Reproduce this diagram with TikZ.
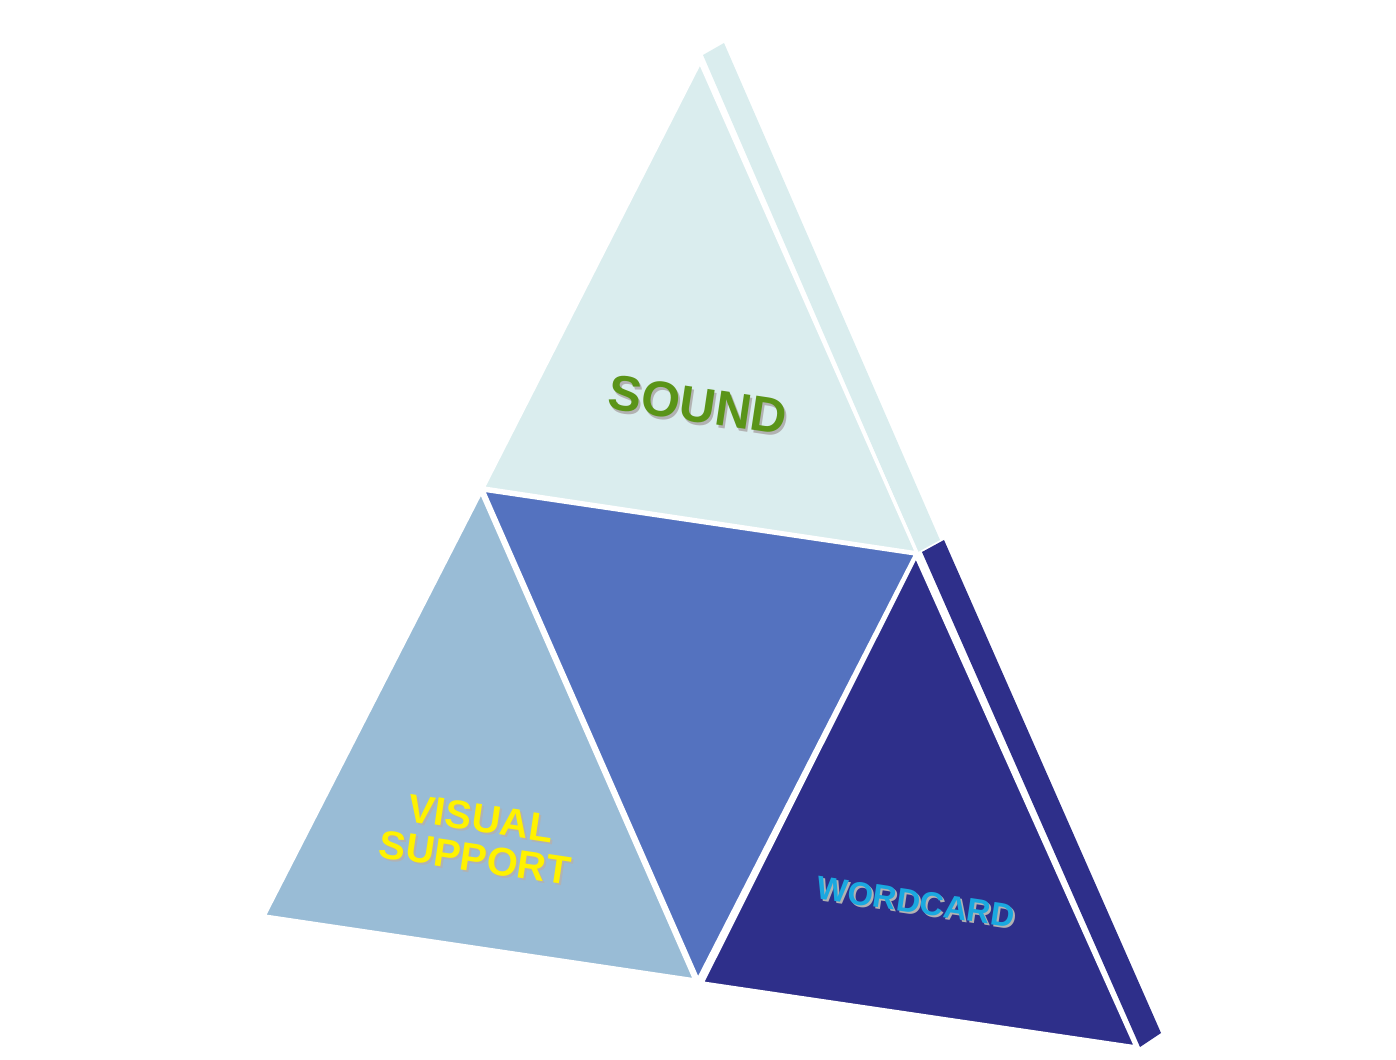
\documentclass[tikz,border=0pt]{standalone}
\usepackage{fontspec}
\setmainfont{Liberation Sans}
\begin{document}
\begin{tikzpicture}[x=1bp,y=1bp,
  face/.style={draw=white,line width=3.5bp,line join=round},
  lbl/.style={font=\bfseries,rotate=-8.5,align=center,inner sep=0pt},
  shad/.style={lbl,text=black!30}]
\useasboundingbox (0,0) rectangle (1396,1059);
\definecolor{topc}{HTML}{DAEDEE}
\definecolor{midc}{HTML}{5472BF}
\definecolor{leftc}{HTML}{99BCD6}
\definecolor{rightc}{HTML}{2E2F8A}
\definecolor{soundc}{HTML}{5A9418}
\definecolor{wordc}{HTML}{1AA8E0}
\fill[topc] (703,1004) -- (724,1016) -- (940,519) -- (918,507) -- cycle;
\fill[rightc] (922,507) -- (944,519) -- (1161,26) -- (1140,12) -- cycle;
\filldraw[face,fill=topc] (700,997) -- (483,571) -- (917,506) -- cycle;
\filldraw[face,fill=midc] (483,569) -- (916,505) -- (698,79) -- cycle;
\filldraw[face,fill=leftc] (481,567) -- (264,143) -- (695,79) -- cycle;
\filldraw[face,fill=rightc] (916,503) -- (702,76) -- (1136,12) -- cycle;
\node[shad,font=\fontsize{50}{54}\selectfont\bfseries] at (700,651) {SOUND};
\node[lbl,text=soundc,font=\fontsize{50}{54}\selectfont\bfseries] (sound) at (698,654) {SOUND};
\node[shad,font=\fontsize{40}{40}\selectfont\bfseries] at (480,219) {VISUAL\\SUPPORT};
\node[lbl,text=yellow,font=\fontsize{40}{40}\selectfont\bfseries] (vis) at (478,221) {VISUAL\\SUPPORT};
\node[shad,font=\fontsize{33}{36}\selectfont\bfseries] at (918,155) {WORDCARD};
\node[lbl,text=wordc,font=\fontsize{33}{36}\selectfont\bfseries] (word) at (916,157) {WORDCARD};
\end{tikzpicture}
\end{document}
